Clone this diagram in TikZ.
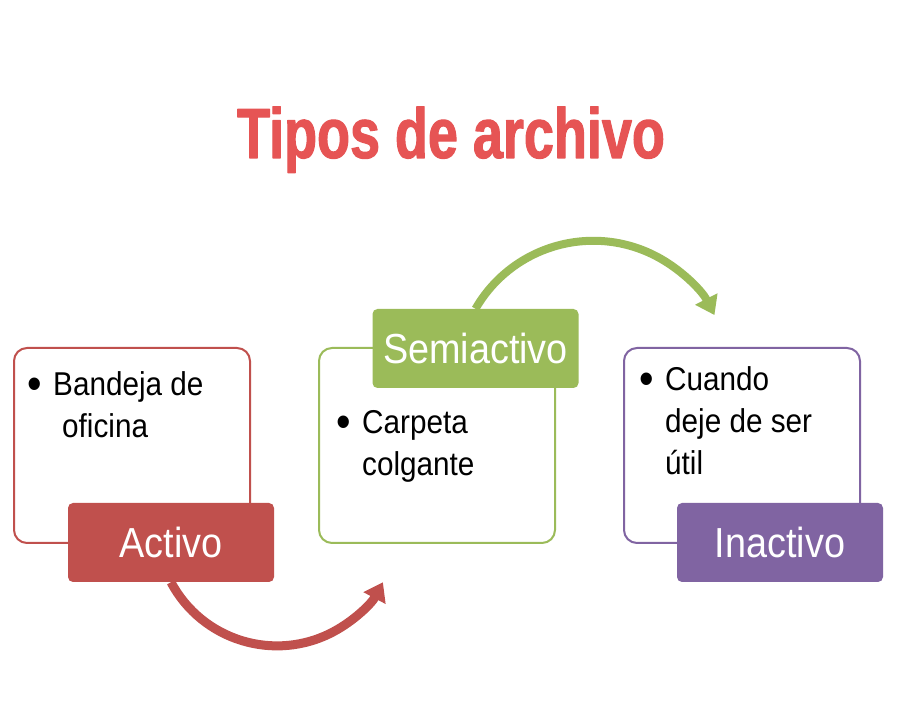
\documentclass[tikz,border=0pt]{standalone}
\usepackage{fontspec}
\setmainfont[FakeStretch=0.9]{Liberation Sans}
\newfontfamily\titlefont[FakeStretch=0.76,BoldFeatures={FakeBold=1.5}]{Liberation Sans}
\usetikzlibrary{arrows.meta}
\usetikzlibrary{backgrounds}
\definecolor{actred}{RGB}{192,80,77}
\definecolor{semigreen}{RGB}{155,187,89}
\definecolor{inpurple}{RGB}{128,100,162}
\definecolor{titlered}{RGB}{230,84,84}
\newcommand{\punto}{\llap{\raisebox{-4pt}{\fontsize{46}{0}\selectfont\textbullet}\hspace{11pt}}}

\begin{document}
\begin{tikzpicture}[x=1pt,y=1pt,line join=round,
  frame/.style={draw=#1,line width=2pt,rounded corners=13pt,minimum width=236pt,minimum height=195pt,inner sep=0pt},
  tag/.style={fill=#1,rounded corners=5pt,minimum width=206pt,minimum height=79pt,inner sep=0pt,text=white,font=\fontsize{42}{42}\selectfont},
  body/.style={anchor=north west,align=left,inner sep=0pt,font=\fontsize{33}{42}\selectfont},
  bend/.style={draw=#1,line width=9pt,-{Triangle[width=24pt,length=18pt]}}]
\useasboundingbox (0,0) rectangle (900,720);

%titulo
\node[anchor=base,text=titlered,font=\titlefont\bfseries\fontsize{71}{71}\selectfont] (title) at (451,562) {Tipos de archivo};

%marcos
\node[frame=actred] (actbox) at (132,274.5) {};
\node[frame=semigreen] (semibox) at (437,274.5) {};
\node[frame=inpurple] (inbox) at (742,274.5) {};

%etiquetas
\node[tag=actred] (act) at (171,177.5) {Activo};
\node[tag=semigreen] (semi) at (475.5,371.5) {Semiactivo};
\node[tag=inpurple] (inact) at (780,177.5) {Inactivo};

%textos
\node[body] (acttxt) at (53,349) {\punto Bandeja de\\\hspace*{9pt}oficina};
\node[body] (semitxt) at (362,310) {\punto Carpeta\\colgante};
\node[body] (intxt) at (665,354) {\punto Cuando\\deje de ser\\útil};

%flechas
\begin{scope}[on background layer]
\fill[white] (0,0) rectangle (900,720);
\draw[bend=actred] (act.south) arc[start angle=208,end angle=332,radius=120];
\draw[bend=semigreen,line width=8pt] (semi.north) arc[start angle=150,end angle=27,radius=136];
\end{scope}
\end{tikzpicture}
\end{document}
